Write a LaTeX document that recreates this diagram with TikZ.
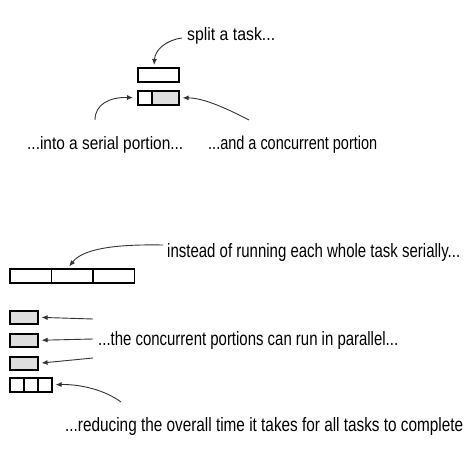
\documentclass[tikz,border=0pt]{standalone}
\usepackage{fontspec}
\setmainfont{Liberation Sans}
\usetikzlibrary{arrows.meta}
\definecolor{portion}{RGB}{222,222,222}
\newcommand{\hand}[3]{\resizebox{#1pt}{#2pt}{#3}}
\begin{document}
\begin{tikzpicture}[x=1pt,y=-1pt,
  cell/.style={draw=black,line width=1.6pt,inner sep=0pt,minimum height=14pt,anchor=north west},
  conc/.style={cell,fill=portion},
  lbl/.style={anchor=base west,inner sep=0pt,text=black},
  pointer/.style={draw=black!80,line width=0.9pt,-{Latex[length=6pt,width=5pt]}}]
\useasboundingbox (0,0) rectangle (474,455);
% top: split a task
\node[cell,minimum width=41pt] (task) at (137,67) {};
\node[cell,minimum width=14pt] (ser) at (137,90) {};
\node[conc,minimum width=27pt] (con) at (151,90) {};
\node[lbl] (split) at (187,40) {\hand{88}{13}{split a task...}};
\node[lbl] (into) at (27,149) {\hand{156}{13}{...into a serial portion...}};
\node[lbl] (andc) at (208,149) {\hand{169}{13.5}{...and a concurrent portion}};
\coordinate (sA) at (182,38);
\coordinate (sB) at (95,120);
\coordinate (sC) at (249,120);
\draw[pointer,shorten >=2pt] (sA) .. controls (166,40) and (155,50) .. (task.north -| 154,0);
\draw[pointer,shorten >=4pt] (sB) .. controls (95,104) and (110,97) .. (ser.west);
\draw[pointer,shorten >=3pt] (sC) .. controls (222,106) and (202,98) .. (con.east);
% serial bar
\node[cell,minimum width=41.5pt] (b1) at (9,268) {};
\node[cell,minimum width=41.5pt] (b2) at (50.5,268) {};
\node[cell,minimum width=41.5pt] (b3) at (92,268) {};
\node[lbl] (instead) at (167,257) {\hand{293}{14}{instead of running each whole task serially...}};
\coordinate (sD) at (163,245);
\draw[pointer,shorten >=2pt] (sD) .. controls (110,244) and (82,250) .. (b2.north -| 68,0);
% parallel portions
\node[conc,minimum width=28pt,minimum height=13pt] (p1) at (9,310) {};
\node[conc,minimum width=28pt,minimum height=13pt] (p2) at (9,333) {};
\node[conc,minimum width=28pt,minimum height=13pt] (p3) at (9,356) {};
\node[cell,minimum width=14pt] (q1) at (9,377) {};
\node[cell,minimum width=14pt] (q2) at (23,377) {};
\node[cell,minimum width=14pt] (q3) at (37,377) {};
\node[lbl] (par) at (98,345) {\hand{300}{14}{...the concurrent portions can run in parallel...}};
\node[lbl] (red) at (65,431) {\hand{398}{14}{...reducing the overall time it takes for all tasks to complete}};
\coordinate (sE) at (93,319);
\coordinate (sF) at (93,339);
\coordinate (sG) at (93,358);
\coordinate (sH) at (121,402);
\draw[pointer,shorten >=3pt] (sE) -- (p1.east);
\draw[pointer,shorten >=3pt] (sF) -- (p2.east);
\draw[pointer,shorten >=3pt] (sG) -- (p3.east);
\draw[pointer,shorten >=3pt] (sH) .. controls (105,390) and (80,384) .. (q3.east);
\end{tikzpicture}
\end{document}
